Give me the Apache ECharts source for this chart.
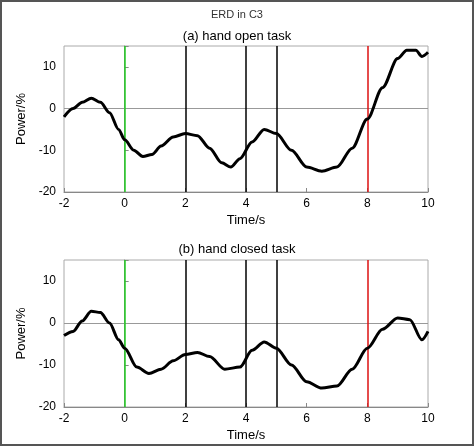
<!DOCTYPE html><html><head><meta charset="utf-8"><script src="https://cdn.jsdelivr.net/npm/echarts@6/dist/echarts.min.js"></script>
<style>body{margin:0}#c{width:474px;height:446px;box-sizing:border-box;border:2px solid #555}</style></head><body><div id="c"></div><script>
const timesA=[-2,-1.7,-1.4,-1.1,-0.8,-0.5,-0.2,0,0.3,0.6,0.9,1.2,1.6,2,2.4,2.8,3.2,3.5,3.8,4.2,4.6,5,5.5,6,6.5,7,7.5,8,8.5,9,9.3,9.6,9.8,10];
const powerA=[-2,0,1.5,2.5,1.5,-1,-5,-7.5,-10,-11.5,-11,-9,-6.8,-6,-6.5,-9.5,-13,-14,-12,-8,-5,-6,-10,-14,-15,-14,-9.5,-2.5,5,12,14,14,12.5,13.5];
const timesB=[-2,-1.7,-1.4,-1.1,-0.8,-0.5,-0.2,0,0.4,0.8,1.2,1.6,2,2.4,2.8,3.3,3.8,4.2,4.6,5,5.5,6,6.5,7,7.5,8,8.5,9,9.4,9.8,10];
const powerB=[-3,-2,0.5,2.8,2.5,0,-4,-6,-10.5,-12,-11,-9,-7.5,-7,-8,-11,-10.5,-6.5,-4.5,-6,-10,-14,-15.5,-15,-11,-6,-1.5,1.2,0.8,-4,-2];
const xTicks=[-2,0,2,4,6,8,10], yTicks=[-20,-10,0,10];
const eventTimes=[0,2,4,5,8], eventColors=['#22cc22','#000','#000','#000','#dd1111'];
const eventLabels=['+','cue','img','video'], eventLabelX=[0.15,2.1,4.1,5.1];
const phaseLabels=['AO','M I'], phaseX=[2.9,5.9];
const grids=[{left:62,right:44,top:44,height:146},{left:62,right:44,top:258,height:147}];
const ch=echarts.init(document.getElementById('c'));
function mk(i,t,p){return [{type:'line',xAxisIndex:i,yAxisIndex:i,data:t.map((x,k)=>[x,p[k]]),smooth:0.3,smoothMonotone:'x',symbol:'none',lineStyle:{color:'#000',width:3},z:5,
 markLine:{silent:true,symbol:'none',label:{show:false},data:[{yAxis:0,lineStyle:{color:'#999',width:1,type:'solid'}}].concat(eventTimes.map((x,k)=>({xAxis:x,lineStyle:{color:eventColors[k],width:1.5,type:'solid'}})))}},
 {type:'scatter',xAxisIndex:i,yAxisIndex:i,symbolSize:1,itemStyle:{opacity:0},silent:true,z:6,
  data:eventLabels.map((s,k)=>({value:[eventLabelX[k],4],label:{show:true,formatter:s,position:'right',distance:0,color:'#000',fontSize:11,fontFamily:'Liberation Sans'}})).concat(phaseLabels.map((s,k)=>({value:[phaseX[k],-17.5],label:{show:true,formatter:s,position:'right',distance:0,color:'#000',fontSize:15,fontFamily:'DejaVu Sans Mono'}})))}];}
const ax=i=>({type:'value',gridIndex:i,min:-2,max:10,interval:2,name:'Time/s',nameLocation:'middle',nameGap:22,nameTextStyle:{fontSize:13,color:'#000'},axisLine:{onZero:false,lineStyle:{color:'#888'}},axisTick:{inside:true,length:4},axisLabel:{color:'#000',fontSize:12,margin:6},splitLine:{show:false}});
const ay=i=>({type:'value',gridIndex:i,min:-20,max:15,interval:10,name:'Power/%',nameLocation:'middle',nameGap:30,nameTextStyle:{fontSize:13,color:'#000'},axisLine:{show:true,lineStyle:{color:'#888'}},axisTick:{inside:true,length:4},axisLabel:{color:'#000',fontSize:12,customValues:yTicks},splitLine:{show:false}});
ch.setOption({animation:false,
 title:[{text:'ERD in C3',left:'center',top:2,textStyle:{fontSize:11,fontWeight:'normal',color:'#333'}},
  {text:'(a) hand open task',left:'center',top:23,textStyle:{fontSize:13,fontWeight:'normal',color:'#000'}},
  {text:'(b) hand closed task',left:'center',top:236,textStyle:{fontSize:13,fontWeight:'normal',color:'#000'}}],
 grid:grids.map(g=>Object.assign({show:true,borderColor:'#aaa',borderWidth:1},g)),
 xAxis:[ax(0),ax(1)],yAxis:[ay(0),ay(1)],
 series:mk(0,timesA,powerA).concat(mk(1,timesB,powerB))});
</script></body></html>
